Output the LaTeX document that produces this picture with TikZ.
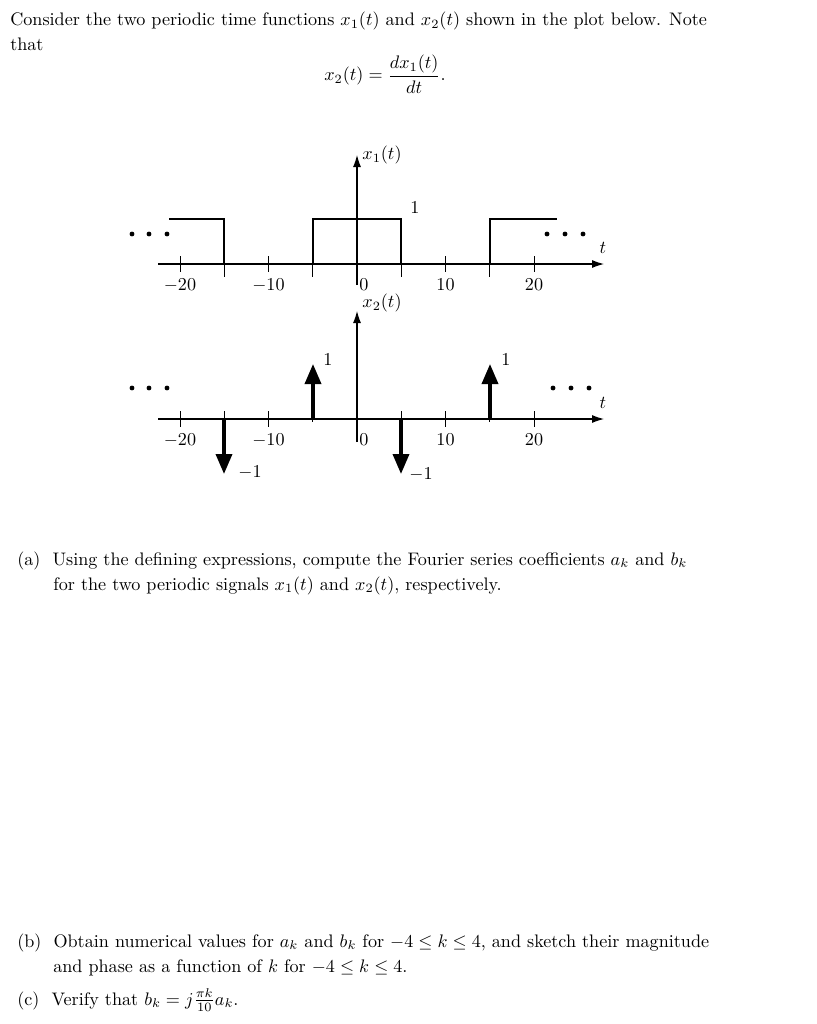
\documentclass[tikz,border=0pt]{standalone}
\usepackage{graphicx}
\usetikzlibrary{arrows.meta}
\newcommand\myS[1]{\scalebox{1.36}{\normalsize #1}}
\begin{document}
\begin{tikzpicture}[x=0.75pt,y=-0.75pt,
  txt/.style={anchor=base west,inner sep=0pt},
  lbl/.style={inner sep=0pt},
  ax/.style={line width=0.8pt,-{Latex[length=9pt,width=6pt]}},
  sig/.style={line width=1.8pt},
  imp/.style={line width=2.6pt,-{Triangle[length=15pt,width=12pt]}},
  tk/.style={line width=0.6pt},
  dotc/.style={circle,fill,inner sep=1.3pt}]
\useasboundingbox (0,0) rectangle (817,1024);
\node[txt] (l1) at (10,26) {\myS{Consider the two periodic time functions $x_1(t)$ and $x_2(t)$ shown in the plot below. Note}};
\node[txt] (l2) at (10,51) {\myS{that}};
\node[lbl] (eq) at (385,74) {\myS{$\displaystyle x_2(t)=\frac{dx_1(t)}{dt}.$}};
% plot 1
\coordinate (a1l) at (158,264); \coordinate (a1r) at (604,264);
\draw[ax] (a1l) -- (a1r);
\coordinate (y1b) at (357,285); \coordinate (y1t) at (357,155);
\draw[ax] (y1b) -- (y1t);
\foreach \t in {-20,-10,10,20} \draw[tk] ({357+8.85*\t},256) -- ({357+8.85*\t},272);
\foreach \t in {-15,-5,5,15} \draw[tk] ({357+8.85*\t},264) -- ({357+8.85*\t},277);
\draw[sig] (169,219) -- (224,219) -- (224,264) -- (313,264) -- (313,219) -- (401,219) -- (401,264) -- (490,264) -- (490,219) -- (557,219);
\foreach \xx/\s in {-20/$-20$,-10/$-10$,10/$10$,20/$20$} \node[lbl] at ({357+8.85*\xx},285) {\myS{\s}};
\node[lbl] (z1) at (364,285) {\myS{$0$}};
\node[lbl] (one1) at (415,208) {\myS{$1$}};
\node[lbl] (t1) at (603,248) {\myS{$t$}};
\node[lbl] (x1l) at (382,155) {\myS{$x_1(t)$}};
\foreach \xx in {132,149,167} \node[dotc] at (\xx,234) {};
\foreach \xx in {547,565,583} \node[dotc] at (\xx,234) {};
% plot 2
\coordinate (a2l) at (158,419); \coordinate (a2r) at (604,419);
\draw[ax] (a2l) -- (a2r);
\coordinate (y2b) at (357,442); \coordinate (y2t) at (357,311);
\draw[ax] (y2b) -- (y2t);
\foreach \t in {-20,-10,10,20} \draw[tk] ({357+8.85*\t},411) -- ({357+8.85*\t},427);
\foreach \t in {-15,-5,5,15} \draw[tk] ({357+8.85*\t},411) -- ({357+8.85*\t},422);
\draw[imp] (313,419) -- (313,364);
\draw[imp] (490,419) -- (490,364);
\draw[imp] (224,419) -- (224,474);
\draw[imp] (401,419) -- (401,474);
\foreach \xx/\s in {-20/$-20$,-10/$-10$,10/$10$,20/$20$} \node[lbl] at ({357+8.85*\xx},440) {\myS{\s}};
\node[lbl] (z2) at (364,440) {\myS{$0$}};
\node[lbl] at (328,360) {\myS{$1$}};
\node[lbl] at (506,360) {\myS{$1$}};
\node[lbl] at (250,472) {\myS{$-1$}};
\node[lbl] at (421,474) {\myS{$-1$}};
\node[lbl] (t2) at (603,403) {\myS{$t$}};
\node[lbl] (x2l) at (382,303) {\myS{$x_2(t)$}};
\foreach \xx in {132,149,167} \node[dotc] at (\xx,388) {};
\foreach \xx in {553,571,589} \node[dotc] at (\xx,388) {};
% questions
\node[txt] (qa) at (17,565) {\myS{(a)\ \ Using the defining expressions, compute the Fourier series coefficients $a_k$ and $b_k$}};
\node[txt] (qa2) at (53,590) {\myS{for the two periodic signals $x_1(t)$ and $x_2(t)$, respectively.}};
\node[txt] (qb) at (17,947) {\myS{(b)\ \ Obtain numerical values for $a_k$ and $b_k$ for $-4\le k\le 4$, and sketch their magnitude}};
\node[txt] (qb2) at (53,972) {\myS{and phase as a function of $k$ for $-4\le k\le 4$.}};
\node[txt] (qc) at (17,1005) {\myS{(c)\ \ Verify that $b_k=j\frac{\pi k}{10}a_k$.}};
\end{tikzpicture}
\end{document}
